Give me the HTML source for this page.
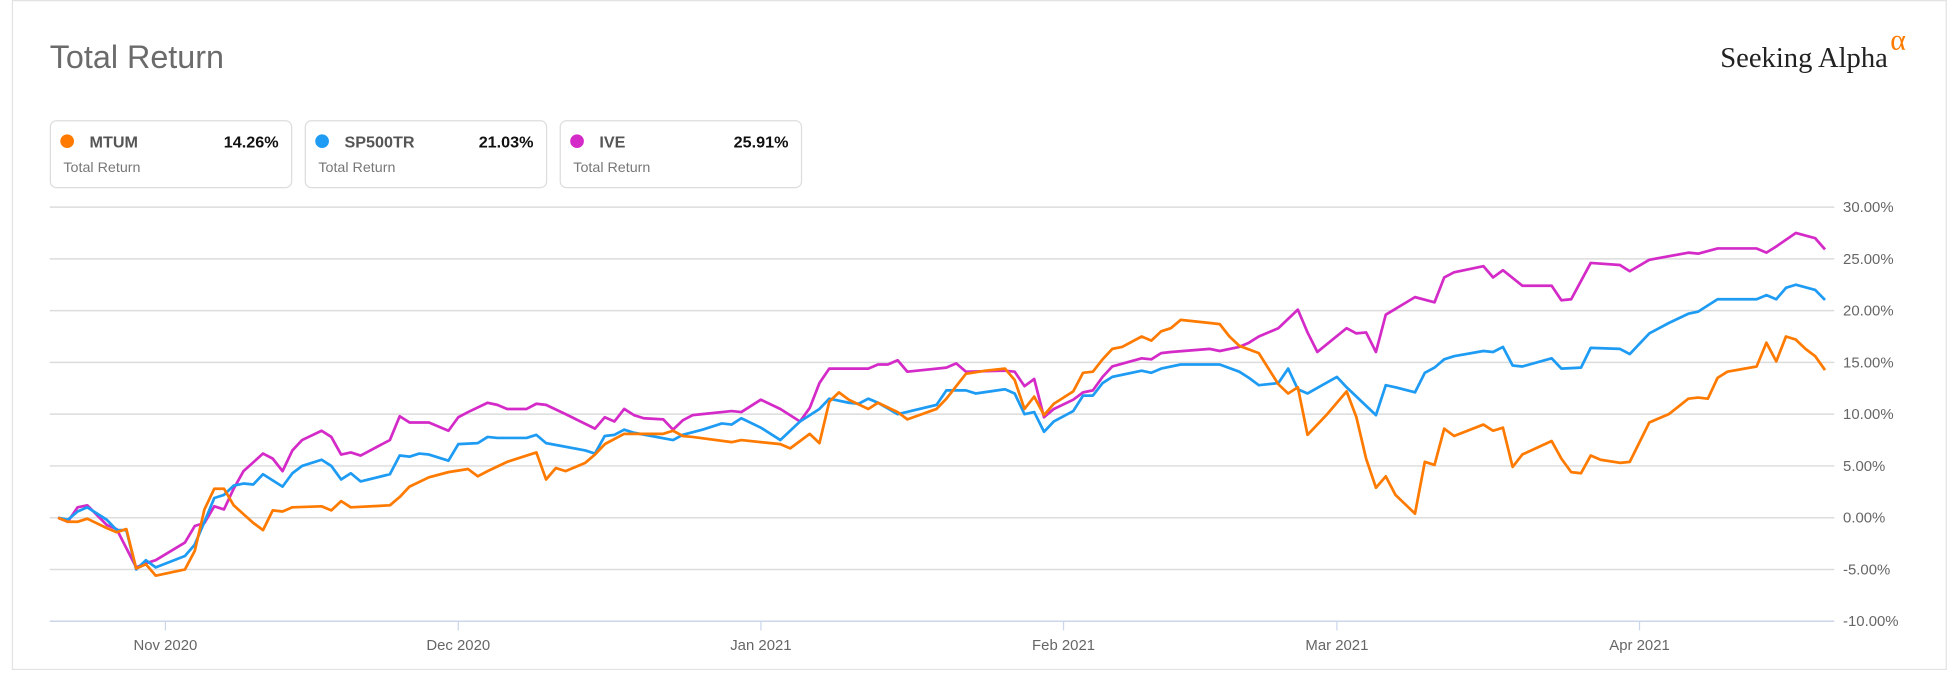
<!DOCTYPE html>
<html><head><meta charset="utf-8"><style>
html,body{margin:0;padding:0;background:#fff;}
svg{display:block;font-family:"Liberation Sans",sans-serif;}
</style></head><body>
<svg id="chart" width="1950" height="675" viewBox="0 0 1568 545" preserveAspectRatio="none" xmlns="http://www.w3.org/2000/svg">
<rect x="10" y="0.5" width="1555" height="540" fill="#fff" stroke="#e3e3e3"/>
<text x="40" y="55" font-size="26" fill="#6b6b6b">Total Return</text>
<text x="1518" y="54" font-size="23" fill="#222" text-anchor="end" font-family="Liberation Serif, serif">Seeking Alpha</text>
<text x="1520" y="40" font-size="24" fill="#ff7a00" font-family="Liberation Serif, serif">α</text>
<g id="legend"></g>
<g id="grid"></g>
<g id="xaxis"></g>
<g id="series"></g>
</svg>
<script>
const yTicks=[30,25,20,15,10,5,0,-5,-10];
const xTickDays=[0,30,61,92,120,151];
const xTickLabels=["Nov 2020","Dec 2020","Jan 2021","Feb 2021","Mar 2021","Apr 2021"];
const seriesNames=["MTUM","SP500TR","IVE"];
const seriesTotals=["14.26%","21.03%","25.91%"];
const seriesColors=["#ff7a00","#1e9bf3","#d42bc8"];
// days since 2020-11-01
const mtumDays=[-11,-10,-9,-8,-6,-5,-4,-3,-2,-1,2,3,4,5,6,7,9,10,11,12,13,16,17,18,19,23,24,25,27,29,31,32,33,35,38,39,40,41,43,44,45,47,51,52,53,54,58,59,63,64,66,67,68,69,70,72,73,75,76,79,80,82,84,86,87,88,89,90,91,93,94,95,96,97,98,100,101,102,103,104,107,108,109,110,112,114,115,116,117,119,121,122,123,124,125,126,128,129,130,131,132,135,136,137,138,139,142,143,144,145,146,147,149,150,152,154,156,157,158,159,160,163,164,165,166,167,168,169,170];
const mtumVals=[0,-0.4,-0.4,-0.1,-1.0,-1.4,-1.1,-4.9,-4.5,-5.6,-5.0,-3.2,0.8,2.8,2.8,1.2,-0.5,-1.2,0.7,0.6,1.0,1.1,0.7,1.6,1.0,1.2,2.0,3.0,3.9,4.4,4.7,4.0,4.5,5.4,6.3,3.7,4.8,4.5,5.3,6.1,7.1,8.1,8.1,8.4,7.9,7.8,7.3,7.5,7.1,6.7,8.1,7.2,11.2,12.1,11.4,10.5,11.1,10.2,9.5,10.5,11.5,13.9,14.2,14.4,13.3,10.5,11.7,9.9,11.0,12.2,14.0,14.1,15.3,16.3,16.5,17.5,17.1,18.0,18.3,19.1,18.8,18.7,17.5,16.6,15.9,12.9,12.0,12.6,8.0,10.0,12.2,9.7,5.7,2.9,4.0,2.2,0.4,5.4,5.1,8.6,7.9,9.0,8.4,8.7,4.9,6.1,7.4,5.7,4.4,4.3,6.0,5.6,5.3,5.4,9.2,10.0,11.5,11.6,11.5,13.5,14.1,14.6,16.9,15.1,17.5,17.2,16.3,15.6,14.26];
const spxDays=[-11,-10,-9,-8,-6,-5,-4,-3,-2,-1,2,3,4,5,6,7,8,9,10,12,13,14,16,17,18,19,20,23,24,25,26,27,29,30,32,33,34,37,38,39,43,44,45,46,47,48,52,53,55,57,58,59,61,63,65,67,68,70,71,72,73,75,79,80,82,83,86,87,88,89,90,91,93,94,95,96,97,100,101,102,104,107,108,110,111,112,114,115,116,117,120,121,124,125,126,128,129,130,131,132,135,136,137,138,139,142,143,145,146,149,150,152,154,156,157,159,160,163,164,165,166,167,169,170];
const spxVals=[0,-0.2,0.6,1.0,-0.2,-1.2,-1.2,-5.0,-4.1,-4.8,-3.7,-2.6,-0.4,1.9,2.2,3.1,3.3,3.2,4.2,3.0,4.3,5.0,5.6,5.0,3.7,4.3,3.5,4.2,6.0,5.9,6.2,6.1,5.5,7.1,7.2,7.8,7.7,7.7,8.0,7.2,6.5,6.2,7.9,8.0,8.5,8.2,7.5,8.0,8.5,9.1,9.0,9.6,8.7,7.5,9.3,10.5,11.5,11.1,11.0,11.5,11.1,10.0,10.9,12.3,12.3,12.0,12.4,12.0,10.0,10.2,8.3,9.3,10.3,11.8,11.8,13.0,13.6,14.2,14.0,14.4,14.8,14.8,14.8,14.1,13.5,12.8,13.0,14.4,12.4,12.0,13.6,12.6,9.9,12.8,12.6,12.1,14.0,14.5,15.3,15.6,16.1,16.0,16.5,14.7,14.6,15.4,14.4,14.5,16.4,16.3,15.8,17.8,18.8,19.7,19.9,21.1,21.1,21.1,21.5,21.1,22.2,22.5,22.0,21.03];
const iveDays=[-11,-10,-9,-8,-6,-5,-3,-2,-1,2,3,4,5,6,7,8,10,11,12,13,14,16,17,18,19,20,23,24,25,27,29,30,31,33,34,35,37,38,39,41,44,45,46,47,48,49,51,52,53,54,58,59,61,63,65,66,67,68,72,73,74,75,76,80,81,82,86,87,88,89,90,91,93,94,95,96,97,100,101,102,103,107,108,110,111,112,114,116,117,118,121,122,123,124,125,128,130,131,132,135,136,137,139,142,143,144,146,149,150,152,156,157,159,163,164,165,167,169,170];
const iveVals=[0,-0.4,1.0,1.2,-0.7,-1.1,-4.8,-4.4,-4.1,-2.4,-0.8,-0.5,1.1,0.8,2.8,4.5,6.2,5.7,4.5,6.5,7.5,8.4,7.8,6.1,6.3,6.0,7.5,9.8,9.2,9.2,8.4,9.7,10.2,11.1,10.9,10.5,10.5,11.0,10.9,10.0,8.6,9.7,9.3,10.5,9.9,9.6,9.5,8.5,9.4,9.9,10.3,10.2,11.4,10.5,9.3,10.6,13.0,14.4,14.4,14.8,14.8,15.2,14.1,14.5,14.9,14.1,14.2,14.1,12.7,13.4,9.7,10.5,11.4,12.1,12.3,13.6,14.6,15.4,15.3,15.9,16.0,16.3,16.1,16.5,16.9,17.5,18.3,20.1,17.9,16.0,18.3,17.8,17.9,16.0,19.6,21.3,20.8,23.2,23.7,24.3,23.2,23.9,22.4,22.4,21.0,21.1,24.6,24.4,23.8,24.9,25.6,25.5,26.0,26.0,25.6,26.2,27.5,27.0,25.91];

const NS="http://www.w3.org/2000/svg";
const X0=40,X1=1475;
function xScale(d){return 133+d*7.85;}
function yScale(v){return 418-v*8.36;}
function mk(tag,attrs,parent){const e=document.createElementNS(NS,tag);for(const k in attrs)e.setAttribute(k,attrs[k]);parent.appendChild(e);return e;}

const grid=document.getElementById('grid');
yTicks.forEach(t=>{
  const l=mk('line',{x1:X0,x2:X1,y1:yScale(t),y2:yScale(t),stroke:t===-10?'#ccd6eb':'#dcdcdc','stroke-width':1.2},grid);
  
  
  const tx=mk('text',{x:1482,y:yScale(t)+4,'font-size':12,fill:'#666'},grid);
  
  
  tx.textContent=t.toFixed(2)+'%';
});
const xa=document.getElementById('xaxis');
xTickDays.forEach((d,i)=>{
  const l=mk('line',{x1:xScale(d),x2:xScale(d),y1:502,y2:509,stroke:'#ccd6eb'},xa);
  
  
  const tx=mk('text',{x:xScale(d),y:525,'font-size':12,fill:'#666','text-anchor':'middle'},xa);
  
  
  tx.textContent=xTickLabels[i];
});
const ser=document.getElementById('series');
const allDays=[mtumDays,spxDays,iveDays],allVals=[mtumVals,spxVals,iveVals];
[2,1,0].forEach(i=>{
  const pts=allDays[i].map((d,j)=>xScale(d).toFixed(1)+','+yScale(allVals[i][j]).toFixed(1)).join(' ');
  const p=mk('polyline',{points:pts,fill:'none',stroke:seriesColors[i],'stroke-width':2.2,'stroke-linejoin':'round'},ser);
  
  
});
const lg=document.getElementById('legend');
seriesNames.forEach((n,i)=>{
  const ox=40+i*205;
  const g=mk('g',{},lg);
  
  
  mk('rect',{x:ox+0.5,y:97.5,width:194,height:54,rx:5,fill:'#fff',stroke:'#dddddd'},g);
  mk('circle',{cx:ox+14,cy:114,r:5.5,fill:seriesColors[i]},g);
  const t1=mk('text',{x:ox+32,y:119,'font-size':13,'font-weight':'bold',fill:'#555'},g);t1.textContent=n;
  const t2=mk('text',{x:ox+184,y:119,'font-size':13,'font-weight':'bold',fill:'#111','text-anchor':'end'},g);t2.textContent=seriesTotals[i];
  const t3=mk('text',{x:ox+11,y:139,'font-size':11.5,fill:'#777'},g);t3.textContent='Total Return';
});
</script>
</body></html>
